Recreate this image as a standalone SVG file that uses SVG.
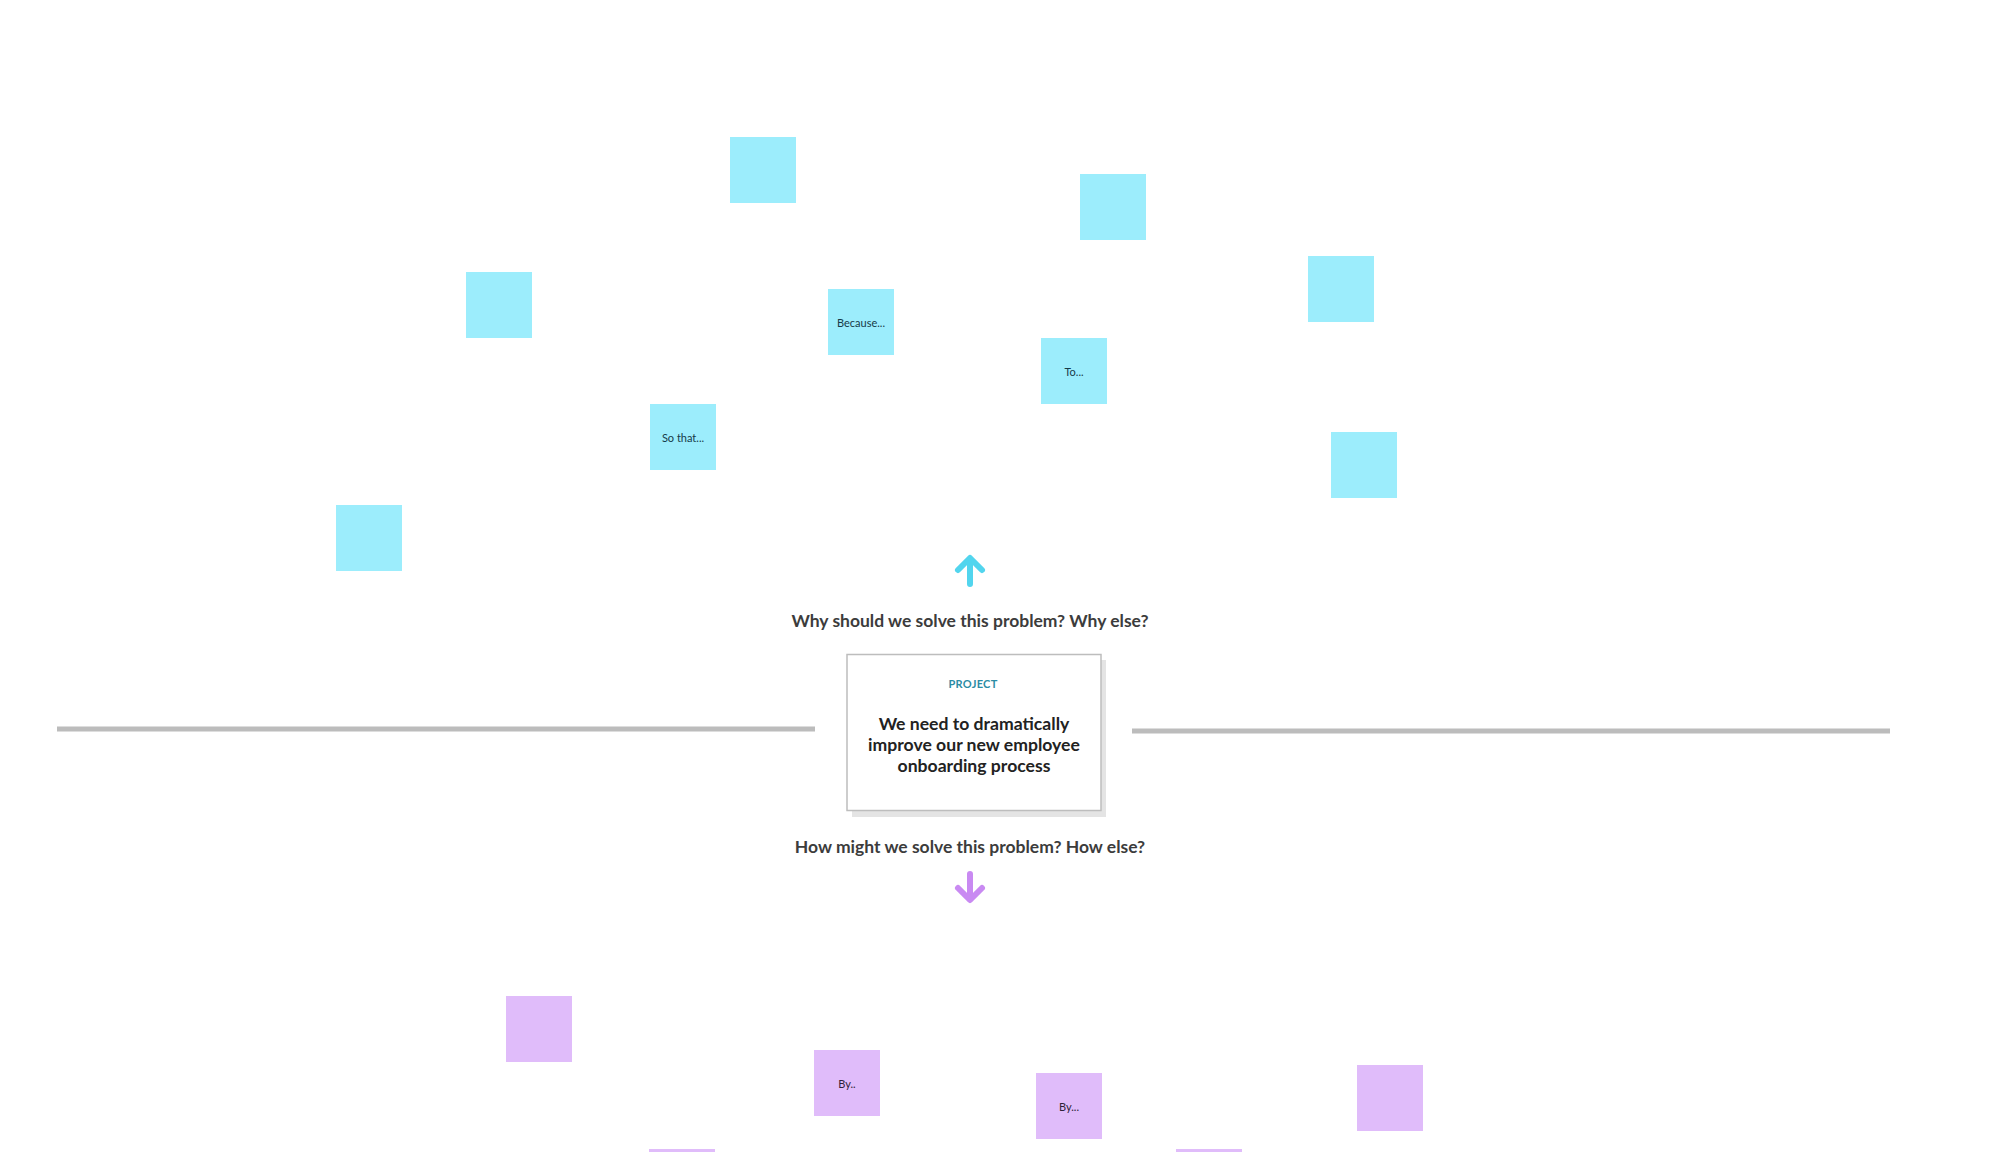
<svg xmlns="http://www.w3.org/2000/svg" width="2000" height="1152" viewBox="0 0 2000 1152">
<defs>
<style>
.blue{fill:#9cedfc}
.purple{fill:#e0bcfa}
.st{font-family:Lato,"Liberation Sans",sans-serif;font-size:11px;text-anchor:middle;dominant-baseline:central}
.stb{fill:#163a48}
.stp{fill:#2e2238}
.q{font-family:Lato,"Liberation Sans",sans-serif;font-weight:700;font-size:17.5px;fill:#3c3c3c;text-anchor:middle}
.main{font-family:Lato,"Liberation Sans",sans-serif;font-weight:700;font-size:17.6px;fill:#222222;text-anchor:middle}
.divider{stroke:#bcbcbc;stroke-width:5;fill:none}
</style>
</defs>
<rect width="2000" height="1152" fill="#ffffff"/>
<g id="blue-stickies">
<g id="b1"><rect class="blue" x="730" y="137" width="66" height="66"/></g>
<g id="b2"><rect class="blue" x="1080" y="174" width="66" height="66"/></g>
<g id="b3"><rect class="blue" x="466" y="272" width="66" height="66"/></g>
<g id="b4"><rect class="blue" x="828" y="289" width="66" height="66"/><text class="st stb" x="861" y="322">Because...</text></g>
<g id="b5"><rect class="blue" x="1308" y="256" width="66" height="66"/></g>
<g id="b6"><rect class="blue" x="1041" y="338" width="66" height="66"/><text class="st stb" x="1074" y="371">To...</text></g>
<g id="b7"><rect class="blue" x="650" y="404" width="66" height="66"/><text class="st stb" x="683" y="437">So that...</text></g>
<g id="b8"><rect class="blue" x="1331" y="432" width="66" height="66"/></g>
<g id="b9"><rect class="blue" x="336" y="505" width="66" height="66"/></g>
</g>
<g id="up-arrow" stroke="#52d5ee" stroke-width="6" stroke-linecap="round" stroke-linejoin="round" fill="none">
<path d="M970 584 V560 M958 570 L970 558 L982 570"/>
</g>
<g id="why-label"><text class="q" x="970" y="627">Why should we solve this problem? Why else?</text></g>
<g id="dividers">
<line class="divider" x1="57" y1="729" x2="815" y2="729"/>
<line class="divider" x1="1132" y1="731" x2="1890" y2="731"/>
</g>
<g id="project">
<rect x="852" y="660" width="254" height="157" fill="#e4e4e4"/>
<rect x="847" y="654.5" width="254" height="156" fill="#ffffff" stroke="#bdbdbd" stroke-width="1.5"/>
<text x="973" y="688" font-family="Lato,'Liberation Sans',sans-serif" font-weight="700" font-size="11px" fill="#2b8ca4" text-anchor="middle" letter-spacing="0.3">PROJECT</text>
<text class="main" x="974" y="730">We need to dramatically</text>
<text class="main" x="974" y="751">improve our new employee</text>
<text class="main" x="974" y="772">onboarding process</text>
</g>
<g id="how-label"><text class="q" x="970" y="853">How might we solve this problem? How else?</text></g>
<g id="down-arrow" stroke="#c98af2" stroke-width="6" stroke-linecap="round" stroke-linejoin="round" fill="none">
<path d="M970 874 V898 M958 888 L970 900 L982 888"/>
</g>
<g id="purple-stickies">
<g id="p1"><rect class="purple" x="506" y="996" width="66" height="66"/></g>
<g id="p2"><rect class="purple" x="814" y="1050" width="66" height="66"/><text class="st stp" x="847" y="1083">By..</text></g>
<g id="p3"><rect class="purple" x="1036" y="1073" width="66" height="66"/><text class="st stp" x="1069" y="1106">By...</text></g>
<g id="p4"><rect class="purple" x="1357" y="1065" width="66" height="66"/></g>
<g id="p5"><rect class="purple" x="649" y="1149" width="66" height="66"/></g>
<g id="p6"><rect class="purple" x="1176" y="1149" width="66" height="66"/></g>
</g>
</svg>
